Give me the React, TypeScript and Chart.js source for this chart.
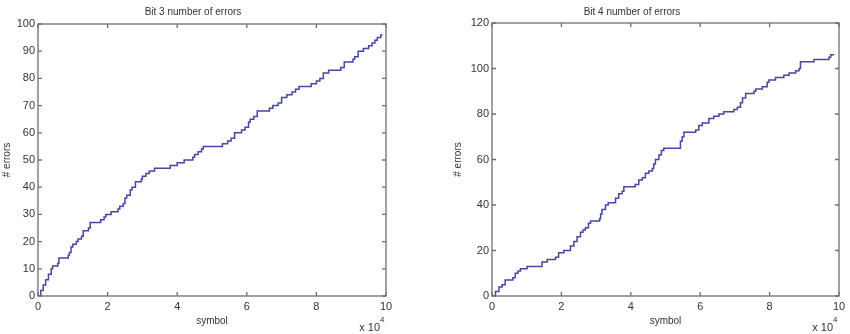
import React, { useEffect, useRef } from "react";
import { Chart, registerables } from "chart.js";

Chart.register(...registerables);

// ---- data (symbol index, cumulative number of errors) ----
const bit3Symbols = [
  0, 800, 1500, 2200, 3000, 3800, 4200, 5700, 6000, 8700, 9000, 9500, 10000, 11000, 11500,
  12500, 13000, 14500, 15000, 18000, 19000, 19500, 21000, 23000, 23500, 24500, 25000, 25500,
  26500, 27000, 28000, 29700, 30000, 31000, 32000, 33500, 38000, 40000, 42000, 44500, 45000,
  46000, 47000, 47500, 53000, 54500, 55500, 56500, 58500, 59500, 60500, 61000, 62000, 63000,
  66500, 67500, 69000, 70000, 71500, 73000, 74000, 75000, 78500, 80000, 81000, 82000, 83500,
  87000, 88000, 90500, 91000, 92000, 93500, 95000, 96000, 96800, 97500, 98500, 99000,
];
const bit3Errors = [
  0, 2, 4, 6, 8, 10, 11, 12, 14, 15, 16, 18, 19, 20, 21,
  22, 24, 25, 27, 28, 29, 30, 31, 32, 33, 34, 36, 37,
  39, 40, 42, 43, 44, 45, 46, 47, 48, 49, 50, 51, 52,
  53, 54, 55, 56, 57, 58, 60, 61, 62, 64, 65, 66, 68,
  69, 70, 71, 73, 74, 75, 76, 77, 78, 79, 80, 82, 83,
  84, 86, 87, 88, 90, 91, 92, 93, 94, 95, 96, 96,
];

const bit4Symbols = [
  0, 1000, 2000, 2900, 3800, 6000, 6700, 7500, 8200, 10100, 14400, 15900, 18300, 19200,
  20700, 22600, 23600, 24500, 25500, 26200, 26900, 27800, 28400, 31000, 31300, 31700,
  32700, 33500, 35600, 36500, 37500, 38000, 41300, 42300, 43300, 44200, 45200, 46200,
  46600, 47100, 48100, 48800, 49500, 54300, 54800, 55300, 58700, 59600, 60600, 62500,
  63900, 65400, 66800, 69700, 70700, 71600, 72200, 73100, 75500, 76000, 77900, 79300,
  79800, 81700, 84100, 85600, 87500, 88500, 88900, 92800, 97100, 97600, 98600,
];
const bit4Errors = [
  0, 2, 4, 5, 7, 8, 10, 11, 12, 13, 15, 16, 17, 19,
  20, 22, 24, 26, 28, 29, 30, 32, 33, 34, 36, 38,
  40, 41, 43, 45, 46, 48, 49, 51, 52, 54, 55, 56,
  58, 60, 62, 64, 65, 68, 70, 72, 73, 75, 76, 78,
  79, 80, 81, 82, 83, 85, 87, 89, 90, 91, 92, 94,
  95, 96, 97, 98, 99, 100, 103, 104, 105, 106, 106,
];

const xTickStep = 20000;
const xMax = 100000;
const xScaleFactor = 10000;
const bit3YMax = 100;
const bit3YStep = 10;
const bit4YMax = 120;
const bit4YStep = 20;

const FONT = "'Liberation Sans', Arial, Helvetica, sans-serif";
const TEXT = "#333333";
const FRAME = "#6f6f6f";
const LINE = "#4646a6";

const matlabFrame = {
  id: "matlabFrame",
  afterDatasetsDraw(chart: any) {
    const { ctx, chartArea: a, scales } = chart;
    const x = scales.x;
    const y = scales.y;
    ctx.save();
    ctx.strokeStyle = FRAME;
    ctx.lineWidth = 1.3;
    ctx.strokeRect(a.left, a.top, a.right - a.left, a.bottom - a.top);
    const tl = 4;
    ctx.beginPath();
    for (const t of x.ticks) {
      const px = x.getPixelForValue(t.value);
      ctx.moveTo(px, a.bottom);
      ctx.lineTo(px, a.bottom - tl);
      ctx.moveTo(px, a.top);
      ctx.lineTo(px, a.top + tl);
    }
    for (const t of y.ticks) {
      const py = y.getPixelForValue(t.value);
      ctx.moveTo(a.left, py);
      ctx.lineTo(a.left + tl, py);
      ctx.moveTo(a.right, py);
      ctx.lineTo(a.right - tl, py);
    }
    ctx.stroke();
    // exponent label "x 10^4"
    ctx.fillStyle = TEXT;
    ctx.font = `11px ${FONT}`;
    ctx.textAlign = "right";
    ctx.textBaseline = "middle";
    ctx.fillText("x 10", a.right - 6, a.bottom + 32);
    ctx.font = `8px ${FONT}`;
    ctx.textAlign = "left";
    ctx.fillText("4", a.right - 6, a.bottom + 24);
    ctx.restore();
  },
};

type PanelProps = {
  title: string;
  symbols: number[];
  errors: number[];
  yMax: number;
  yStep: number;
  yAxisWidth: number;
  yTitlePad: number;
  rightPad: number;
  titlePadTop: number;
  titlePadBottom: number;
};

function Panel(p: PanelProps) {
  const ref = useRef<HTMLCanvasElement | null>(null);
  useEffect(() => {
    if (!ref.current) return;
    const data = p.symbols.map((s, i) => ({ x: s, y: p.errors[i] }));
    const chart = new Chart(ref.current, {
      type: "line",
      data: {
        datasets: [
          {
            label: p.title,
            data,
            borderColor: LINE,
            borderWidth: 1.5,
            pointRadius: 0,
            stepped: true,
            fill: false,
          },
        ],
      },
      options: {
        animation: false,
        responsive: false,
        maintainAspectRatio: false,
        layout: { padding: { left: 0, right: p.rightPad, top: 0, bottom: 0 } },
        plugins: {
          legend: { display: false },
          tooltip: { enabled: false },
          title: {
            display: true,
            text: p.title,
            color: TEXT,
            font: { family: FONT, size: 10, weight: "normal" },
            padding: { top: p.titlePadTop, bottom: p.titlePadBottom },
          },
        },
        scales: {
          x: {
            type: "linear",
            min: 0,
            max: xMax,
            grid: { display: false, drawTicks: false },
            border: { display: false },
            ticks: {
              stepSize: xTickStep,
              padding: 4,
              color: TEXT,
              font: { family: FONT, size: 11 },
              maxRotation: 0,
              callback: (v: any) => String(Number(v) / xScaleFactor),
            },
            title: {
              display: true,
              text: "symbol",
              color: TEXT,
              font: { family: FONT, size: 10 },
              padding: { top: 0, bottom: 7 },
            },
            afterFit: (s: any) => {
              s.height = 38;
            },
          },
          y: {
            type: "linear",
            min: 0,
            max: p.yMax,
            grid: { display: false, drawTicks: false },
            border: { display: false },
            ticks: {
              stepSize: p.yStep,
              padding: 3,
              color: TEXT,
              font: { family: FONT, size: 11 },
            },
            title: {
              display: true,
              text: "# errors",
              color: TEXT,
              font: { family: FONT, size: 10 },
              padding: { top: p.yTitlePad, bottom: 0 },
            },
            afterFit: (s: any) => {
              s.width = p.yAxisWidth;
            },
          },
        },
      },
      plugins: [matlabFrame],
    } as any);
    return () => chart.destroy();
  }, []);
  return <canvas ref={ref} width={425} height={334} style={{ display: "block", width: 425, height: 334 }} />;
}

export default function App() {
  return (
    <div
      style={{
        position: "fixed",
        left: 0,
        top: 0,
        width: 850,
        height: 334,
        background: "#ffffff",
        display: "flex",
      }}
    >
      <Panel
        title="Bit 3 number of errors"
        symbols={bit3Symbols}
        errors={bit3Errors}
        yMax={bit3YMax}
        yStep={bit3YStep}
        yAxisWidth={38}
        yTitlePad={1}
        rightPad={39}
        titlePadTop={6}
        titlePadBottom={6}
      />
      <Panel
        title="Bit 4 number of errors"
        symbols={bit4Symbols}
        errors={bit4Errors}
        yMax={bit4YMax}
        yStep={bit4YStep}
        yAxisWidth={67}
        yTitlePad={27}
        rightPad={11}
        titlePadTop={6}
        titlePadBottom={5}
      />
    </div>
  );
}
